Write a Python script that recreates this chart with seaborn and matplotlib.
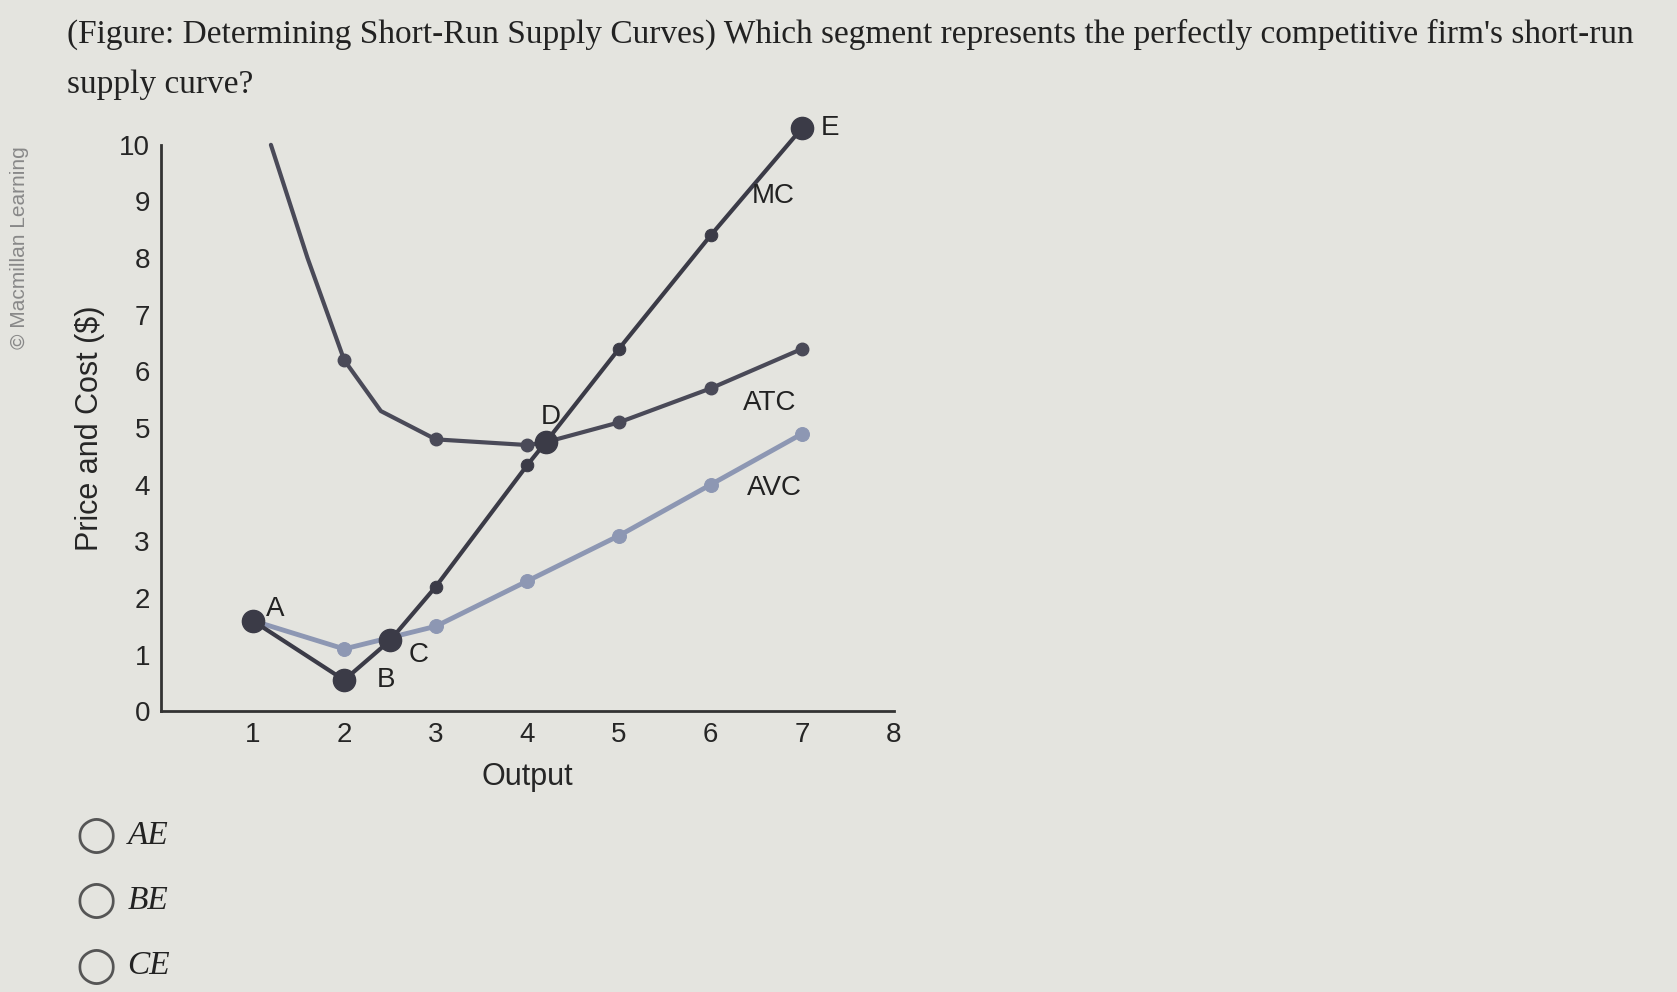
import matplotlib
matplotlib.use("Agg")
import matplotlib.pyplot as plt
import seaborn as sns

sns.set_style("white")
plt.rcParams['font.family'] = ['Liberation Sans', 'DejaVu Sans']

mc_x = [1, 2, 2.5, 3, 4, 4.2, 5, 6, 7]
mc_y = [1.6, 0.55, 1.25, 2.2, 4.35, 4.75, 6.4, 8.4, 10.3]
atc_x = [1.2, 1.6, 2, 2.4, 3, 4, 4.2, 5, 6, 7]
atc_y = [10.0, 8.0, 6.2, 5.3, 4.8, 4.7, 4.75, 5.1, 5.7, 6.4]
atc_mark = [2, 3, 4, 5, 6, 7]
avc_x = [1, 2, 3, 4, 5, 6, 7]
avc_y = [1.6, 1.1, 1.5, 2.3, 3.1, 4.0, 4.9]
big_pts = {"A": (1, 1.6), "B": (2, 0.55), "C": (2.5, 1.25), "D": (4.2, 4.75), "E": (7, 10.3)}
options = ["AE", "BE", "CE"]

bg = "#e4e4df"
fig = plt.figure(figsize=(16.77, 9.92), dpi=100, facecolor=bg)
ax = fig.add_axes([0.096, 0.283, 0.437, 0.571])
ax.set_facecolor(bg)

dark = "#3b3b47"
grey = "#4a4a58"
light = "#8d97b3"

sns.lineplot(x=avc_x, y=avc_y, ax=ax, color=light, lw=3.5, marker="o", ms=10, mec=light, sort=False)
sns.lineplot(x=atc_x, y=atc_y, ax=ax, color=grey, lw=3, sort=False)
mx = [x for x in atc_x if x in atc_mark]
my = [y for x, y in zip(atc_x, atc_y) if x in atc_mark]
ax.plot(mx, my, "o", color=grey, ms=9)
sns.lineplot(x=mc_x, y=mc_y, ax=ax, color=dark, lw=3, marker="o", ms=9, mec=dark, sort=False)
for line in ax.lines:
    line.set_clip_on(False)
for k, (x, y) in big_pts.items():
    ax.plot(x, y, "o", color=dark, ms=16, clip_on=False)

offs = {"A": (0.15, 0.2), "B": (0.35, -0.0), "C": (0.65, 0.0), "D": (-0.05, 0.45), "E": (0.2, 0.0)}
pos = {"B": (2.35, 0.55), "C": (2.7, 1.0)}
for k, (x, y) in big_pts.items():
    if k in pos:
        tx, ty = pos[k]
    else:
        tx, ty = x + offs[k][0], y + offs[k][1]
    ax.text(tx, ty, k, fontsize=20, color="#222", ha="left", va="center", clip_on=False)
ax.text(6.45, 9.1, "MC", fontsize=20, color="#222", va="center")
ax.text(6.35, 5.45, "ATC", fontsize=20, color="#222", va="center")
ax.text(6.4, 3.95, "AVC", fontsize=20, color="#222", va="center")

ax.set_xlim(0, 8)
ax.set_ylim(0, 10)
ax.set_xticks(range(1, 9))
ax.set_yticks(range(0, 11))
ax.tick_params(axis="x", direction="in", length=14, width=1.5, labelsize=20, pad=8)
ax.tick_params(axis="y", direction="in", length=14, width=1.5, labelsize=20, pad=8)
for s in ["top", "right"]:
    ax.spines[s].set_visible(False)
for s in ["left", "bottom"]:
    ax.spines[s].set_linewidth(2)
    ax.spines[s].set_color("#333")
ax.set_xlabel("Output", fontsize=22, labelpad=10)
ax.set_ylabel("Price and Cost ($)", fontsize=22, labelpad=10)

fig.text(0.04, 0.965, "(Figure: Determining Short-Run Supply Curves) Which segment represents the perfectly competitive firm's short-run",
         fontsize=24, family="Liberation Serif", va="center", color="#222")
fig.text(0.04, 0.915, "supply curve?", fontsize=24, family="Liberation Serif", va="center", color="#222")
fig.text(0.006, 0.75, "© Macmillan Learning", rotation=90, fontsize=15, color="#888", va="center")
for i, o in enumerate(options):
    y = 0.158 - i * 0.066
    fig.text(0.057, y, "○", fontsize=34, va="center", ha="center", color="#555", family="DejaVu Sans")
    fig.text(0.076, y, o, fontsize=24, style="italic", family="Liberation Serif", va="center", color="#222")

fig.savefig("out.png", dpi=100, facecolor=bg)
